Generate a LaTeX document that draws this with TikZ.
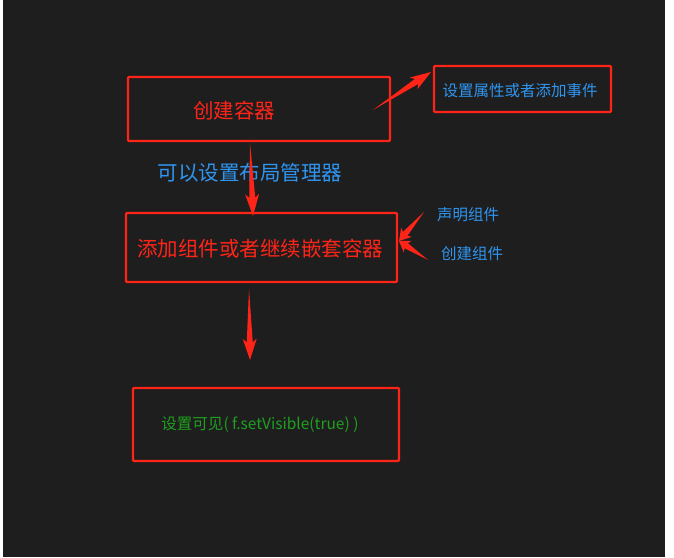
\documentclass[tikz,border=0pt]{standalone}
\usepackage{fontspec}
\setmainfont{Noto Sans CJK SC}
\usetikzlibrary{calc}
\definecolor{bg}{HTML}{1E1E1E}
\definecolor{rd}{HTML}{FF2418}
\definecolor{bl}{HTML}{2F95F0}
\definecolor{gr}{HTML}{1FA01F}
\tikzset{box/.style={draw=rd,line width=2.2pt,rounded corners=1pt},
 lbl/.style={inner sep=0pt,anchor=center}}
\newcommand{\taper}[2]{%
 \fill[rd] (#1) -- ($(#1)!0.75!(#2)!3pt!90:(#2)$) -- ($(#1)!0.70!(#2)!7pt!90:(#2)$) -- (#2)
 -- ($(#1)!0.70!(#2)!7pt!-90:(#2)$) -- ($(#1)!0.75!(#2)!3pt!-90:(#2)$) -- cycle;}
\begin{document}
\begin{tikzpicture}[x=1pt,y=-1pt]
\useasboundingbox (0,0) rectangle (674,557);
\fill[white] (0,0) rectangle (674,557);
\fill[bg] (3,0) rectangle (665,557);
\draw[box] (128,77) rectangle (390,141);
\node[lbl,text=rd,font=\fontsize{20.5}{22}\selectfont] (n1) at (234,111) {创建容器};
\draw[box] (434,66) rectangle (611,112);
\node[lbl,text=bl,font=\fontsize{15.5}{17}\selectfont] (n2) at (520,91) {设置属性或者添加事件};
\node[lbl,text=bl,font=\fontsize{20.5}{22}\selectfont] (lay) at (250,173) {可以设置布局管理器};
\draw[box] (126,213) rectangle (397,282);
\node[lbl,text=rd,font=\fontsize{20.5}{22}\selectfont] (n3) at (260,249) {添加组件或者继续嵌套容器};
\node[lbl,text=bl,font=\fontsize{15.5}{17}\selectfont] (d1) at (468,215) {声明组件};
\node[lbl,text=bl,font=\fontsize{15.5}{17}\selectfont] (d2) at (472,254) {创建组件};
\draw[box] (133,388) rectangle (399,461);
\node[lbl,text=gr,font=\fontsize{15.5}{17}\selectfont] (n4) at (260,425) {设置可见( f.setVisible(true) )};
\coordinate (a1s) at (373,110); \coordinate (a1e) at (431,72);
\coordinate (a2s) at (250,143); \coordinate (a2e) at (253,216);
\coordinate (a3s) at (249,289); \coordinate (a3e) at (250,360);
\coordinate (a4s) at (424,212); \coordinate (a5s) at (428,260); \coordinate (a4e) at (399,241);
\taper{a1s}{a1e}
\taper{a2s}{a2e}
\taper{a3s}{a3e}
\taper{a4s}{a4e}
\taper{a5s}{a4e}
\end{tikzpicture}
\end{document}
